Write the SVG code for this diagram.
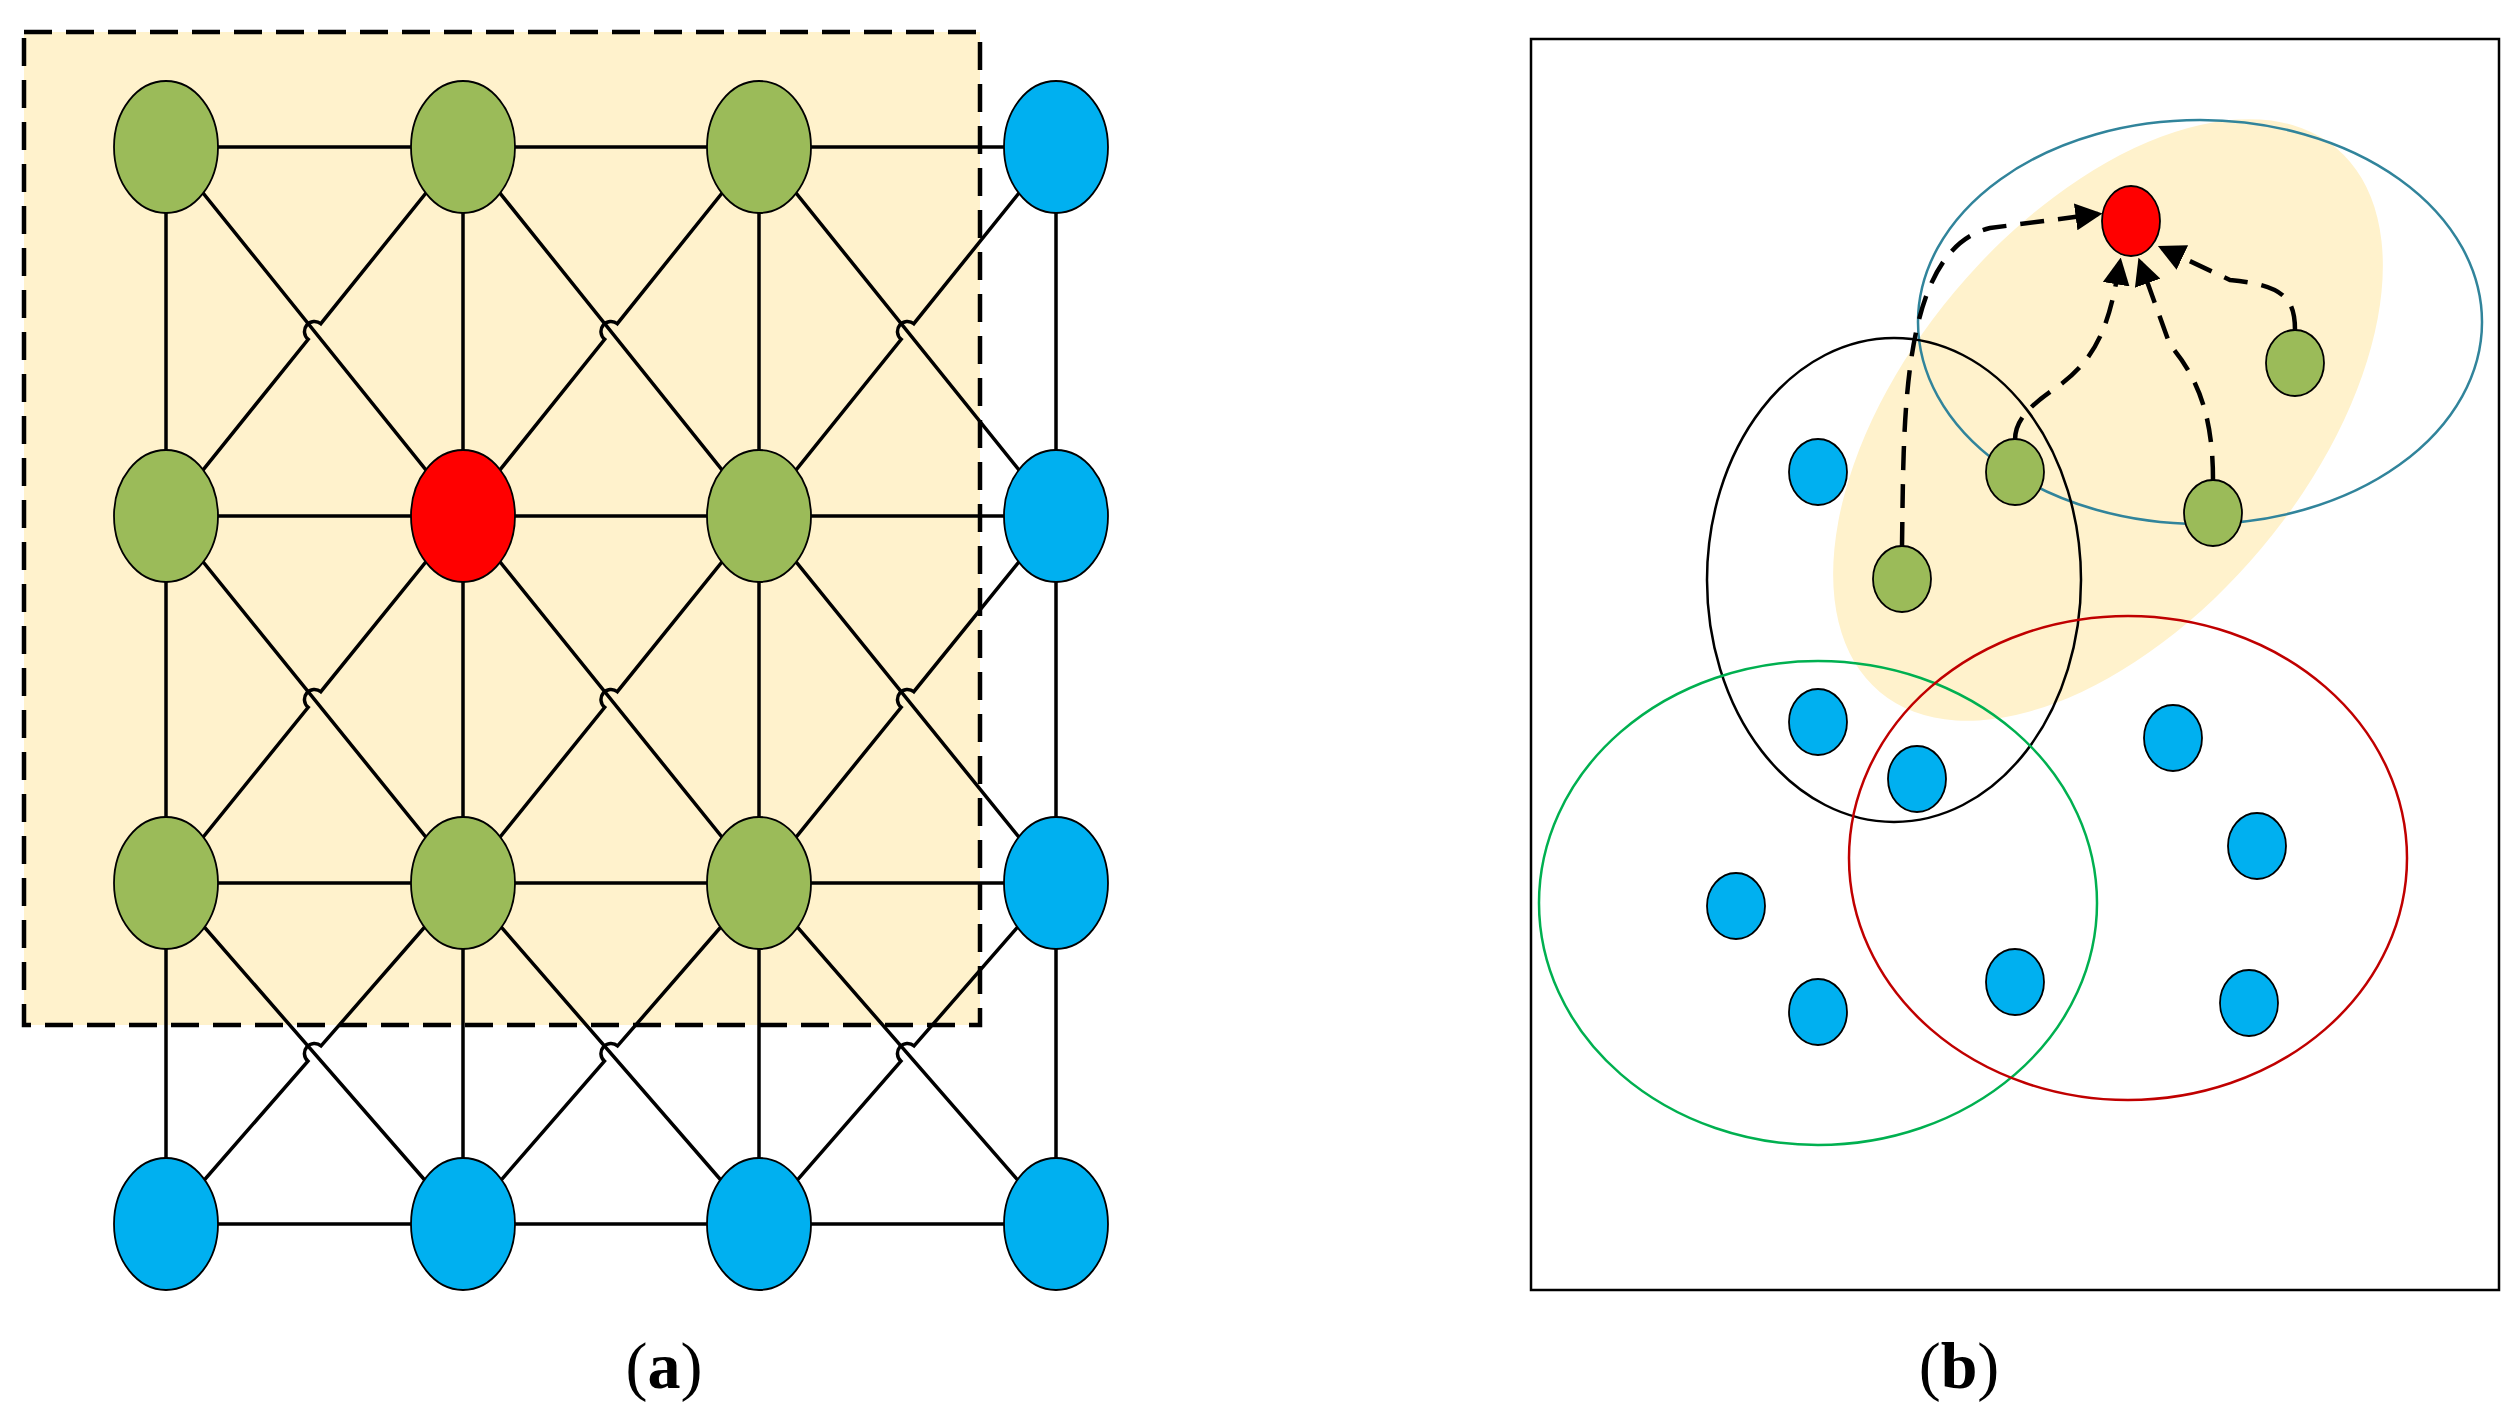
<svg xmlns="http://www.w3.org/2000/svg" width="2515" height="1423" viewBox="0 0 2515 1423">
<style>
.e{stroke:#000;stroke-width:3.5;fill:none}
.g{fill:#9BBB59;stroke:#000;stroke-width:1.8}
.b{fill:#00B0F0;stroke:#000;stroke-width:1.8}
.r{fill:#FF0000;stroke:#000;stroke-width:1.8}
.d{stroke:#000;stroke-width:4.5;fill:none;stroke-dasharray:24 14;marker-end:url(#ah)}
.lbl{font-family:"Liberation Serif",serif;font-size:66px}
</style>
<defs>
<marker id="ah" markerWidth="6" markerHeight="6" refX="5" refY="3" orient="auto" markerUnits="strokeWidth"><path d="M0,0 L6,3 L0,6 Z" fill="#000"/></marker>
</defs>
<rect x="0" y="0" width="2515" height="1423" fill="#fff"/>
<rect x="24" y="32" width="956" height="993" fill="#FFF2CC" stroke="#000" stroke-width="4.5" stroke-dasharray="28 14"/>
<g id="connectors">
<path class="e" d="M166 147H1056M166 516H1056M166 883H1056M166 1224H1056M166 147V1224M463 147V1224M759 147V1224M1056 147V1224"/>
<path class="e" d="M166 147L463 516M463 147L759 516M759 147L1056 516M166 516L463 883M463 516L759 883M759 516L1056 883M166 883L463 1224M463 883L759 1224M759 883L1056 1224"/>
<path class="e" d="M166 516L308.2 339.3a10 10 0 0 1 12.6 -15.6L463 147"/>
<path class="e" d="M463 516L604.7 339.3a10 10 0 0 1 12.6 -15.6L759 147"/>
<path class="e" d="M759 516L901.2 339.3a10 10 0 0 1 12.6 -15.6L1056 147"/>
<path class="e" d="M166 883L308.2 707.3a10 10 0 0 1 12.6 -15.6L463 516"/>
<path class="e" d="M463 883L604.7 707.3a10 10 0 0 1 12.6 -15.6L759 516"/>
<path class="e" d="M759 883L901.2 707.3a10 10 0 0 1 12.6 -15.6L1056 516"/>
<path class="e" d="M166 1224L307.9 1061.1a10 10 0 0 1 13.2 -15.2L463 883"/>
<path class="e" d="M463 1224L604.4 1061.1a10 10 0 0 1 13.2 -15.2L759 883"/>
<path class="e" d="M759 1224L900.9 1061.1a10 10 0 0 1 13.2 -15.2L1056 883"/>
</g>
<g id="a-nodes">
<ellipse id="n00" class="g" cx="166" cy="147" rx="52" ry="66"/>
<ellipse id="n01" class="g" cx="463" cy="147" rx="52" ry="66"/>
<ellipse id="n02" class="g" cx="759" cy="147" rx="52" ry="66"/>
<ellipse id="n03" class="b" cx="1056" cy="147" rx="52" ry="66"/>
<ellipse id="n10" class="g" cx="166" cy="516" rx="52" ry="66"/>
<ellipse id="n11" class="r" cx="463" cy="516" rx="52" ry="66"/>
<ellipse id="n12" class="g" cx="759" cy="516" rx="52" ry="66"/>
<ellipse id="n13" class="b" cx="1056" cy="516" rx="52" ry="66"/>
<ellipse id="n20" class="g" cx="166" cy="883" rx="52" ry="66"/>
<ellipse id="n21" class="g" cx="463" cy="883" rx="52" ry="66"/>
<ellipse id="n22" class="g" cx="759" cy="883" rx="52" ry="66"/>
<ellipse id="n23" class="b" cx="1056" cy="883" rx="52" ry="66"/>
<ellipse id="n30" class="b" cx="166" cy="1224" rx="52" ry="66"/>
<ellipse id="n31" class="b" cx="463" cy="1224" rx="52" ry="66"/>
<ellipse id="n32" class="b" cx="759" cy="1224" rx="52" ry="66"/>
<ellipse id="n33" class="b" cx="1056" cy="1224" rx="52" ry="66"/>
</g>
<text class="lbl" x="664" y="1388" text-anchor="middle">(<tspan font-weight="bold">a</tspan>)</text>
<g id="panel-b">
<rect x="1531" y="39" width="968" height="1251" fill="none" stroke="#000" stroke-width="2.5"/>
<ellipse cx="2108" cy="420" rx="355" ry="200" transform="rotate(-50 2108 420)" fill="#FFF2CC"/>
<ellipse cx="2200" cy="322" rx="282" ry="202" fill="none" stroke="#31849B" stroke-width="2.5"/>
<ellipse cx="1894" cy="580" rx="187" ry="242" fill="none" stroke="#000" stroke-width="2.5"/>
<ellipse cx="1818" cy="903" rx="279" ry="242" fill="none" stroke="#00B050" stroke-width="2.5"/>
<ellipse cx="2128" cy="858" rx="279" ry="242" fill="none" stroke="#C00000" stroke-width="2.5"/>
</g>
<g id="b-connectors">
<path class="d" d="M1902 546C1904 420 1900 250 1990 228L2098 214"/>
<path class="d" d="M2015 440C2015 420 2030 405 2060 385C2100 355 2110 320 2120 262"/>
<path class="d" d="M2213 480C2213 420 2200 380 2170 345L2140 262"/>
<path class="d" d="M2295 330C2295 300 2285 285 2230 280L2162 248"/>
</g>
<g id="b-nodes">
<ellipse id="br" class="r" cx="2131" cy="221" rx="29" ry="35"/>
<ellipse id="bg1" class="g" cx="2295" cy="363" rx="29" ry="33"/>
<ellipse id="bg2" class="g" cx="2015" cy="472" rx="29" ry="33"/>
<ellipse id="bg3" class="g" cx="2213" cy="513" rx="29" ry="33"/>
<ellipse id="bg4" class="g" cx="1902" cy="579" rx="29" ry="33"/>
<ellipse id="bb1" class="b" cx="1818" cy="472" rx="29" ry="33"/>
<ellipse id="bb2" class="b" cx="1818" cy="722" rx="29" ry="33"/>
<ellipse id="bb3" class="b" cx="1917" cy="779" rx="29" ry="33"/>
<ellipse id="bb4" class="b" cx="1736" cy="906" rx="29" ry="33"/>
<ellipse id="bb5" class="b" cx="1818" cy="1012" rx="29" ry="33"/>
<ellipse id="bb6" class="b" cx="2015" cy="982" rx="29" ry="33"/>
<ellipse id="bb7" class="b" cx="2173" cy="738" rx="29" ry="33"/>
<ellipse id="bb8" class="b" cx="2257" cy="846" rx="29" ry="33"/>
<ellipse id="bb9" class="b" cx="2249" cy="1003" rx="29" ry="33"/>
</g>
<text class="lbl" x="1959" y="1388" text-anchor="middle">(<tspan font-weight="bold">b</tspan>)</text>
</svg>
